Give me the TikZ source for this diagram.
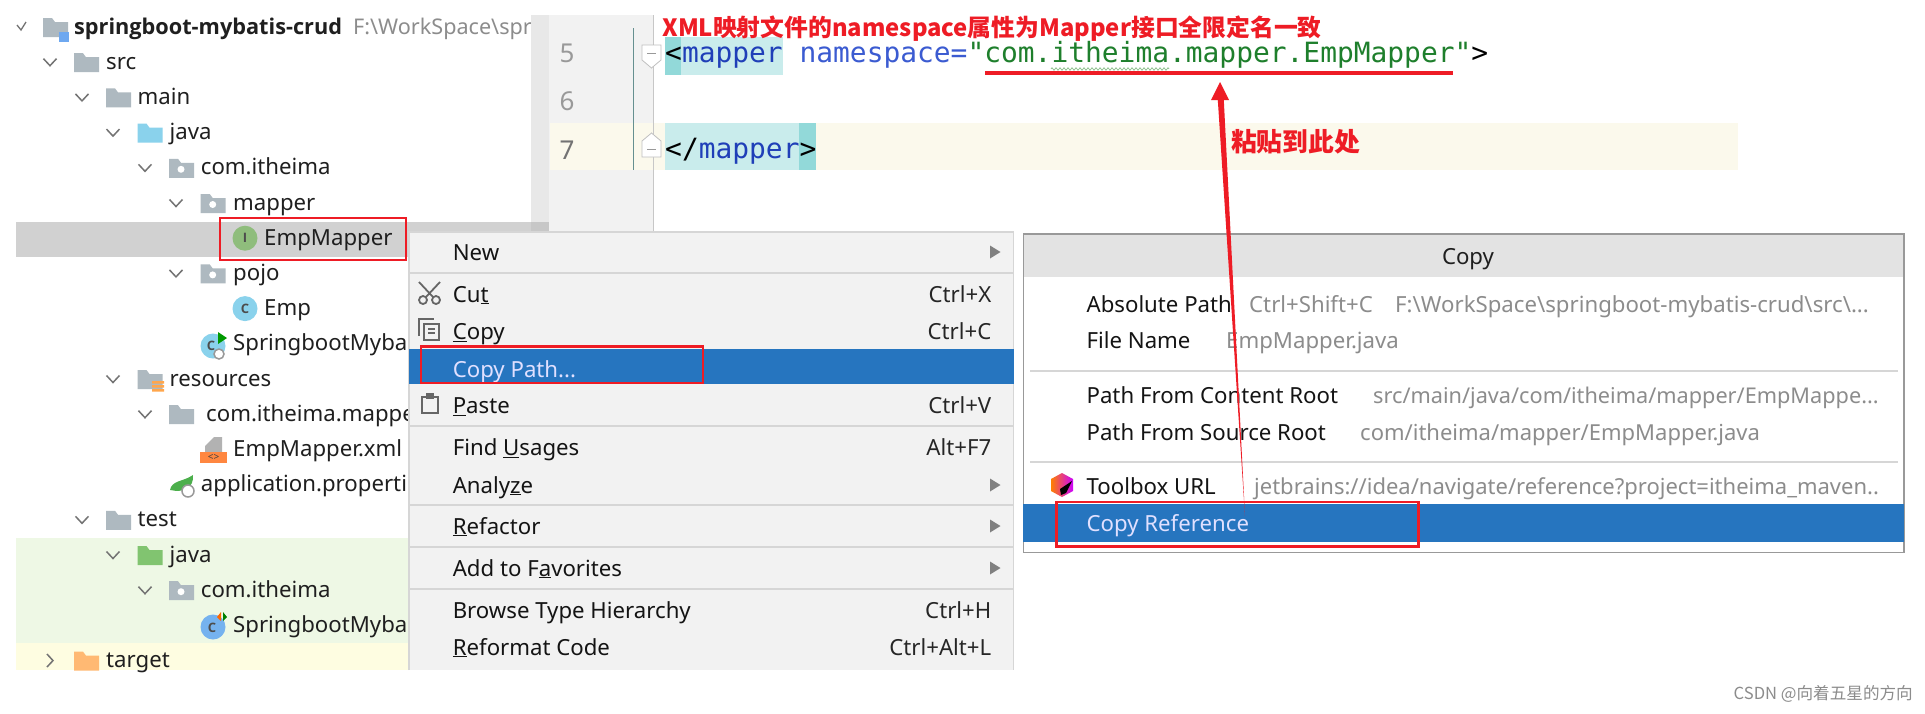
\documentclass[tikz,border=0pt]{standalone}
\usepackage{fontspec}
\usepackage{xcolor}
\setmainfont{Noto Sans}
\newfontfamily\uibold{Open Sans}
\newfontfamily\codefont{DejaVu Sans Mono}
\newfontfamily\cjk{Noto Sans CJK SC}
\usetikzlibrary{calc, decorations.pathmorphing}

\definecolor{rowgrey}{HTML}{D1D1D1}
\definecolor{testgreen}{HTML}{EEF8E5}
\definecolor{targetyellow}{HTML}{FEFDE1}
\definecolor{foldergrey}{HTML}{AEB9C0}
\definecolor{menugrey}{HTML}{F2F2F2}
\definecolor{sepgrey}{HTML}{D6D6D6}
\definecolor{selblue}{HTML}{2675BF}
\definecolor{markred}{HTML}{EE1C25}
\definecolor{hintgrey}{HTML}{8C8C8C}
\definecolor{gutter}{HTML}{F2F2F2}
\definecolor{lineyellow}{HTML}{FBF9EC}
\definecolor{tagcyan}{HTML}{C9ECEC}
\definecolor{tagdark}{HTML}{92D9D9}
\definecolor{tagblue}{HTML}{1F3FB8}
\definecolor{attrblue}{HTML}{3B5BD1}
\definecolor{strgreen}{HTML}{1E7F2C}
\definecolor{iconblue}{HTML}{8AD2EC}
\definecolor{icongreen}{HTML}{8FBD7C}

\newcommand{\foldericon}[3]{\fill[#3] (#1,#2) ++(0,-9) -- ++(9,0) -- ++(3,4) -- ++(13,0) -- ++(0,15) -- ++(-25,0) -- cycle;}
\newcommand{\packagedot}[2]{\fill[white] (#1+12,#2+1.5) circle (3.5);}
\newcommand{\chevron}[2]{\draw[treechevron] (#1-6.5,#2-3.5) -- (#1,#2+3.5) -- (#1+6.5,#2-3.5);}
\newcommand{\submenu}[1]{\fill[black!50] (990,#1-6.5) -- (1000.5,#1) -- (990,#1+6.5) -- cycle;}

\begin{document}
\begin{tikzpicture}[
    x=1pt,
    y=-1pt,
    treetext/.style={anchor=west, inner sep=0pt, text height=18pt, text depth=4pt, text=black!88, font=\fontsize{22.2}{26}\selectfont},
    menutext/.style={treetext, text height=20pt, text=black!92},
    menukey/.style={menutext, anchor=east, text=black!85},
    hint/.style={menutext, text=hintgrey},
    selected/.style={menutext, text=white!88!blue},
    codetext/.style={anchor=west, inner sep=0pt, text height=21pt, text depth=6pt, font=\codefont\fontsize{27.9}{32}\selectfont},
    lineno/.style={anchor=center, inner sep=0pt, font=\fontsize{26}{30}\selectfont},
    marktext/.style={anchor=center, inner sep=0pt, text=markred, font=\cjk\bfseries\fontsize{23.8}{28}\selectfont},
    badge/.style={anchor=center, inner sep=0pt, text=black!70, font=\uibold\bfseries\fontsize{13}{14}\selectfont},
    redbox/.style={draw=markred, line width=2.5pt},
    menusep/.style={draw=sepgrey, line width=2pt},
    panelsep/.style={draw=sepgrey, line width=1.2pt},
    treechevron/.style={draw=black!55, line width=1.5pt},
    icon/.style={draw=black!60, line width=1.8pt}
]
    \useasboundingbox (0,0) rectangle (1925,713);
    \fill[white] (0,0) rectangle (1925,713);

    % tree backgrounds
    \fill[rowgrey] (16,222) rectangle (531,257);
    \fill[testgreen] (16,538) rectangle (410,643);
    \fill[targetyellow] (16,643) rectangle (410,669.5);

    % project tree
    \draw[treechevron, line width=1.3pt] (17,25) -- (21,30) -- (26,22);
    \foldericon{43}{27}{foldergrey}
    \fill[iconblue!80!blue] (59,32) rectangle (69,42);
    \node[treetext, font=\uibold\bfseries\fontsize{21.7}{26}\selectfont] (rootname) at (74,27) {springboot-mybatis-crud};
    \node[hint, text height=18pt, font=\fontsize{21.6}{26}\selectfont] (rootpath) at (353,27) {F:\textbackslash WorkSpace\textbackslash sprin};

    \chevron{50}{62.2}
    \foldericon{74}{62.2}{foldergrey}
    \node[treetext] (srcdir) at (106,62.2) {src};

    \chevron{82}{97.4}
    \foldericon{106}{97.4}{foldergrey}
    \node[treetext] (maindir) at (137.5,97.4) {main};

    \chevron{113}{132.6}
    \foldericon{137.5}{132.6}{iconblue}
    \node[treetext] (javadir) at (169.5,132.6) {java};

    \chevron{145}{167.8}
    \foldericon{169}{167.8}{foldergrey}
    \packagedot{169}{167.8}
    \node[treetext] (compkg) at (200.7,167.8) {com.itheima};

    \chevron{176}{203}
    \foldericon{200.7}{203}{foldergrey}
    \packagedot{200.7}{203}
    \node[treetext] (mapperpkg) at (233,203) {mapper};

    \fill[icongreen] (245,238.2) circle (12.5);
    \node[badge] (ibadge) at (245,238.2) {I};
    \node[treetext] (mapperfile) at (264,238.2) {EmpMapper};

    \chevron{176}{273.4}
    \foldericon{200.7}{273.4}{foldergrey}
    \packagedot{200.7}{273.4}
    \node[treetext] (pojopkg) at (233,273.4) {pojo};

    \fill[iconblue] (245,308.6) circle (12.5);
    \node[badge] (cbadge) at (245,308.6) {C};
    \node[treetext] (empfile) at (264,308.6) {Emp};

    \fill[iconblue] (213,346) circle (12.5);
    \node[badge] (appbadge) at (211,346) {C};
    \fill[green!60!black] (218,332) -- (227,338) -- (218,344) -- cycle;
    \draw[icon, draw=black!40, fill=white, line width=1.5pt] (219,354) circle (5);
    \node[treetext] (appfile) at (233,343.8) {SpringbootMyba};

    \chevron{113}{379}
    \foldericon{137.5}{379}{foldergrey}
    \fill[orange!70] (152,381) rectangle (164,383.5) (152,385) rectangle (164,387.5) (152,389) rectangle (164,391.5);
    \node[treetext] (resdir) at (169.5,379) {resources};

    \chevron{145}{414.2}
    \foldericon{169}{414.2}{foldergrey}
    \node[treetext] (mapperres) at (206,414.2) {com.itheima.mappe};

    \fill[black!30] (205,446) -- (214,437) -- (222,437) -- (222,452) -- (205,452) -- cycle;
    \fill[orange!75!red!75] (200,452) rectangle (227,463);
    \node[badge, text=black!75, font=\fontsize{10}{11}\selectfont] (xmlbadge) at (213.5,457.5) {<>};
    \node[treetext] (xmlfile) at (233,449.4) {EmpMapper.xml};

    \fill[green!55!black!70] (170,490) .. controls (172,480) and (183,482) .. (193,475) .. controls (194,488) and (184,493) .. (170,490);
    \draw[icon, draw=black!40, fill=white, line width=1.5pt] (188,491) circle (6);
    \node[treetext] (appprops) at (200.7,484.6) {application.properti};

    \chevron{82}{519.8}
    \foldericon{106}{519.8}{foldergrey}
    \node[treetext] (testdir) at (137.5,519.8) {test};

    \chevron{113}{555}
    \foldericon{137.5}{555}{icongreen!90!green}
    \node[treetext] (testjava) at (169.5,555) {java};

    \chevron{145}{590.2}
    \foldericon{169}{590.2}{foldergrey}
    \packagedot{169}{590.2}
    \node[treetext] (testpkg) at (200.7,590.2) {com.itheima};

    \fill[iconblue!85!blue] (213,627) circle (12.5);
    \node[badge] (testbadge) at (212,628) {C};
    \fill[orange!80!red] (221,612) -- (217,617) -- (221,621) -- cycle;
    \fill[green!50!black] (223,612) -- (227,617) -- (223,621) -- cycle;
    \node[treetext] (testfile) at (233,625.4) {SpringbootMyba};

    \draw[treechevron] (47,654) -- (53,660.6) -- (47,667);
    \foldericon{74}{660.6}{orange!55}
    \node[treetext] (targetdir) at (106,660.6) {target};

    % editor
    \fill[black!9] (531,15) rectangle (549,232);
    \fill[black!22] (531,222) rectangle (549,232);
    \fill[gutter] (549,15) rectangle (653,232);
    \fill[lineyellow] (549.6,123) rectangle (1738,170);
    \draw[black!22, line width=1pt] (653,15) -- (653,232);
    \draw[black!45!teal!60, line width=1.2pt] (633.5,28) -- (633.5,170);
    \node[lineno, text=black!40] (lineone) at (567,53) {5};
    \node[lineno, text=black!40] (linetwo) at (567,101.7) {6};
    \node[lineno, text=black!55] (linethree) at (567,150) {7};
    \fill[white] (642,45) -- (661,45) -- (661,60) -- (651.5,68) -- (642,60) -- cycle;
    \draw[black!25, line width=.8pt] (642,45) -- (661,45) -- (661,60) -- (651.5,68) -- (642,60) -- cycle;
    \fill[white] (642,157) -- (661,157) -- (661,141) -- (651.5,133) -- (642,141) -- cycle;
    \draw[black!25, line width=.8pt] (642,157) -- (661,157) -- (661,141) -- (651.5,133) -- (642,141) -- cycle;
    \draw[black!40, line width=1pt] (647,53) -- (656,53) (647,149) -- (656,149);

    \fill[tagcyan] (665,37) rectangle (782.5,75);
    \fill[tagdark] (665,37) rectangle (681,75);
    \fill[tagcyan] (665,123) rectangle (816,170);
    \fill[tagdark] (799,123) rectangle (816,170);
    \node[codetext] (openline) at (665,55) {<\textcolor{tagblue}{mapper} \textcolor{attrblue}{namespace=}\textcolor{strgreen}{"com.itheima.mapper.EmpMapper"}>};
    \node[codetext] (closeline) at (665,151) {</\textcolor{tagblue}{mapper}>};
    \draw[green!45!black!45, line width=.7pt, decorate, decoration={zigzag, segment length=4pt, amplitude=1.3pt}] (1051,69) -- (1169,69);

    % context menu
    \fill[menugrey] (409,232) rectangle (1013.5,670);
    \draw[sepgrey, line width=1.2pt] (409,670) -- (409,232) -- (1013.5,232) -- (1013.5,670);
    \fill[selblue] (409,349.3) rectangle (1013.5,384.3);
    \draw[menusep] (409,272.7) -- (1013.5,272.7);
    \draw[menusep] (409,425.7) -- (1013.5,425.7);
    \draw[menusep] (409,505) -- (1013.5,505);
    \draw[menusep] (409,547) -- (1013.5,547);
    \draw[menusep] (409,589) -- (1013.5,589);

    \node[menutext] (menunew) at (452.6,252) {New};
    \submenu{252}
    \node[menutext] (menucut) at (452.6,294) {Cu\underline{t}};
    \node[menukey] (keycut) at (991.5,294) {Ctrl+X};
    \node[menutext] (menucopy) at (452.6,331.7) {\underline{C}opy};
    \node[menukey] (keycopy) at (991.5,331.7) {Ctrl+C};
    \node[selected] (menupath) at (452.6,369) {Copy Path...};
    \node[menutext] (menupaste) at (452.6,405.7) {\underline{P}aste};
    \node[menukey] (keypaste) at (991.5,405.7) {Ctrl+V};
    \node[menutext] (menufind) at (452.6,447.7) {Find \underline{U}sages};
    \node[menukey] (keyfind) at (991.5,447.7) {Alt+F7};
    \node[menutext] (menuanalyze) at (452.6,485) {Analy\underline{z}e};
    \submenu{485}
    \node[menutext] (menurefactor) at (452.6,526) {\underline{R}efactor};
    \submenu{526}
    \node[menutext] (menufav) at (452.6,568) {Add to F\underline{a}vorites};
    \submenu{568}
    \node[menutext] (menubrowse) at (452.6,610.7) {Browse Type Hierarchy};
    \node[menukey] (keybrowse) at (991.5,610.7) {Ctrl+H};
    \node[menutext] (menuformat) at (452.6,647) {\underline{R}eformat Code};
    \node[menukey] (keyformat) at (991.5,647) {Ctrl+Alt+L};

    % menu icons
    \draw[icon] (423,300) circle (4) (436,300) circle (4);
    \draw[icon] (426,297) -- (440,282) (433,297) -- (419,282);
    \draw[icon, line width=1.5pt] (419,336) -- (419,319) -- (434,319);
    \draw[icon, fill=menugrey, line width=2pt] (424,324) rectangle (439,340);
    \draw[black!60, line width=1.3pt] (428,329) -- (435,329) (428,333) -- (435,333);
    \draw[icon, line width=2.5pt] (422,397) rectangle (438,413);
    \fill[black!60] (426,393) rectangle (434,399);

    % copy panel
    \fill[white] (1023.4,234) rectangle (1904,552.7);
    \fill[black!11] (1023.4,234) rectangle (1904,277.3);
    \draw[black!40, line width=1.3pt] (1023.4,234) rectangle (1904,552.7);
    \draw[panelsep] (1030,371) -- (1898,371);
    \draw[panelsep] (1030,462) -- (1898,462);
    \fill[selblue] (1023.4,504.3) rectangle (1904,541.7);

    \node[treetext, anchor=center] (paneltitle) at (1468,257) {Copy};
    \node[menutext] (absname) at (1086.4,304) {Absolute Path};
    \node[hint] (abskey) at (1249,304) {Ctrl+Shift+C};
    \node[hint] (absvalue) at (1395,304) {F:\textbackslash WorkSpace\textbackslash springboot-mybatis-crud\textbackslash src\textbackslash ...};
    \node[menutext] (filename) at (1086.4,340.7) {File Name};
    \node[hint] (filevalue) at (1226,340.7) {EmpMapper.java};
    \node[menutext] (contentname) at (1086.4,395.7) {Path From Content Root};
    \node[hint, font=\fontsize{21.7}{26}\selectfont] (contentvalue) at (1373,395.7) {src/main/java/com/itheima/mapper/EmpMappe...};
    \node[menutext] (sourcename) at (1086.4,432) {Path From Source Root};
    \node[hint, font=\fontsize{22}{26}\selectfont] (sourcevalue) at (1360,432) {com/itheima/mapper/EmpMapper.java};
    \shade[left color=orange, right color=magenta!80!blue] (1062,473) -- (1073,479) -- (1073,491) -- (1062,497) -- (1051,491) -- (1051,479) -- cycle;
    \fill[black] (1072,481) -- (1066,493) -- (1061,495) -- (1060,489) -- cycle;
    \node[menutext] (toolname) at (1086.4,486.7) {Toolbox URL};
    \node[hint, font=\fontsize{22}{26}\selectfont] (toolvalue) at (1254,486.7) {jetbrains://idea/navigate/reference?project=itheima\_maven..};
    \node[selected] (refname) at (1086.4,523) {Copy Reference};

    % red marks
    \draw[redbox] (220,218) rectangle (406,260);
    \draw[redbox] (421,346.7) rectangle (703,383);
    \draw[redbox] (1056.7,502) rectangle (1418.5,546.7);
    \draw[markred, line width=4pt] (985,73) -- (1453,73);
    \node[marktext] (nstitle) at (992,29) {XML映射文件的namespace属性为Mapper接口全限定名一致};
    \node[marktext, font=\cjk\bfseries\fontsize{25.8}{28}\selectfont] (pastenote) at (1295.5,141.7) {粘贴到此处};

    \coordinate (refstart) at (1245,516);
    \coordinate (pastetip) at (1220,82);
    \fill[markred] (refstart) -- ($(pastetip)+(-2.2,18)$) -- ($(pastetip)+(-9,18)$) -- (pastetip) -- ($(pastetip)+(9,18)$) -- ($(pastetip)+(3.8,18)$) -- cycle;

    \node[anchor=east, inner sep=0pt, text=black!45, font=\cjk\fontsize{16.6}{20}\selectfont] (watermark) at (1913,694) {CSDN @向着五星的方向};
\end{tikzpicture}
\end{document}
